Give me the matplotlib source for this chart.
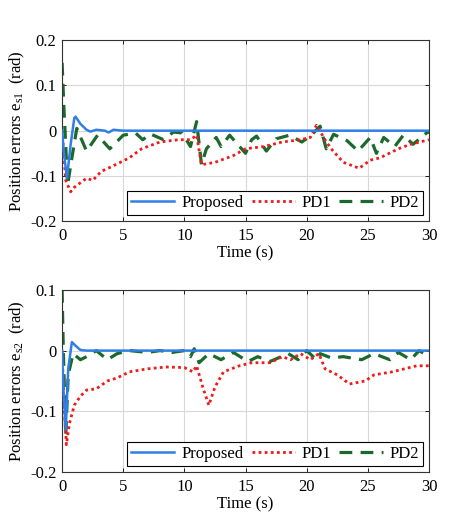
import numpy as np
import matplotlib.pyplot as plt

plt.rcParams['font.family'] = ['Liberation Serif', 'DejaVu Serif']
plt.rcParams['mathtext.fontset'] = 'custom'
plt.rcParams['mathtext.rm'] = 'Liberation Serif'
plt.rcParams['mathtext.it'] = 'Liberation Serif'
plt.rcParams['font.size'] = 12

# joint 1
t1_prop = [0, 0.15, 0.4, 0.7, 1.0, 1.1, 1.5, 2.0, 2.3, 2.8, 3.5, 3.8, 4.2, 5, 10, 15, 20, 25, 30]
e1_prop = [0, -0.05, -0.105, -0.03, 0.028, 0.031, 0.015, 0.002, -0.002, 0.002, 0, -0.004, 0.002, 0, 0, 0, 0, 0, 0]

t1_pd1 = [0, 0.3, 0.7, 1.0, 1.5, 2.0, 2.5, 3.2, 4.0, 5.5, 6.5, 8.0, 9.5, 10.5, 11.0, 11.4, 12.5, 14.0,
          15.0, 16.5, 18.0, 19.5, 20.3, 20.8, 21.5, 22.0, 23.0, 24.3, 25.2, 26.0, 27.5, 28.5, 30]
e1_pd1 = [0, -0.11, -0.135, -0.125, -0.115, -0.105, -0.11, -0.09, -0.08, -0.06, -0.04, -0.025, -0.02,
          -0.02, -0.01, -0.075, -0.07, -0.055, -0.04, -0.035, -0.025, -0.02, -0.015, 0.012, -0.02,
          -0.04, -0.07, -0.083, -0.065, -0.06, -0.04, -0.03, -0.02]

t1_pd2 = [0, 0.15, 0.45, 0.8, 1.2, 2.0, 2.9, 3.9, 5.0, 6.0, 6.6, 7.2, 8.3, 9.1, 9.8, 10.5, 11.0, 11.4,
          11.8, 12.6, 13.0, 13.7, 15.0, 15.5, 15.9, 16.7, 17.5, 18.6, 19.6, 20.3, 21.1, 21.6, 22.2,
          23.3, 24.2, 25.2, 25.7, 26.3, 27.2, 27.9, 28.7, 29.8, 30]
e1_pd2 = [0.15, 0.05, -0.12, -0.06, 0.005, -0.045, -0.01, -0.04, -0.01, -0.005, -0.02, -0.007, -0.02,
          -0.003, -0.005, -0.035, 0.02, -0.075, -0.04, -0.015, -0.035, -0.01, -0.05, -0.02, -0.012,
          -0.045, -0.018, -0.01, -0.025, -0.012, 0.01, -0.04, -0.008, -0.022, -0.045, -0.015, -0.05,
          -0.015, -0.035, -0.01, -0.03, -0.005, -0.003]

# joint 2
t2_prop = [0, 0.1, 0.3, 0.5, 0.8, 1.1, 1.5, 2, 5, 10, 15, 20, 25, 30]
e2_prop = [0, -0.06, -0.13, -0.03, 0.014, 0.008, 0.001, 0, 0, 0, 0, 0, 0, 0]

t2_pd1 = [0, 0.15, 0.35, 0.6, 1.0, 1.5, 2.0, 2.8, 3.7, 4.5, 5.5, 7.0, 8.5, 10.0, 10.7, 11.0, 11.5,
          12.0, 12.5, 13.2, 14.5, 15.5, 17.0, 18.0, 18.7, 19.5, 20.3, 21.0, 21.5, 22.5, 23.5, 24.8,
          25.5, 27.0, 28.0, 29.0, 30]
e2_pd1 = [0, -0.08, -0.155, -0.12, -0.09, -0.075, -0.065, -0.063, -0.05, -0.045, -0.035, -0.03, -0.027,
          -0.028, -0.035, -0.025, -0.06, -0.09, -0.06, -0.035, -0.025, -0.02, -0.02, -0.01, -0.015,
          -0.005, -0.015, -0.005, -0.03, -0.04, -0.055, -0.05, -0.04, -0.035, -0.03, -0.025, -0.025]

t2_pd2 = [0, 0.1, 0.3, 0.5, 0.9, 1.5, 2.0, 2.8, 3.7, 4.5, 5.5, 7.0, 8.0, 9.0, 10.0, 10.5, 10.8, 11.2,
          12.0, 13.0, 14.0, 15.2, 16.0, 17.0, 18.5, 19.3, 20.0, 20.8, 21.1, 22.0, 23.0, 24.5, 25.5,
          26.8, 27.5, 28.5, 29.2, 30]
e2_pd2 = [0.1, 0.0, -0.14, -0.04, -0.005, -0.015, -0.01, 0, -0.015, -0.005, 0, -0.003, 0, -0.003, 0,
          -0.01, 0.003, -0.02, -0.005, -0.015, -0.003, -0.018, -0.01, -0.018, -0.005, -0.015, 0,
          -0.015, -0.005, -0.012, -0.01, -0.015, -0.005, -0.015, -0.003, -0.015, 0, -0.01]

c_prop = '#2f7fe6'
c_pd1 = '#f01a1a'
c_pd2 = '#1b6a2b'

fig = plt.figure(figsize=(4.74, 5.28), dpi=100)
ax1 = fig.add_axes([0.131, 0.581, 0.774, 0.343])
ax2 = fig.add_axes([0.131, 0.106, 0.774, 0.345])

panneaux = [
    (ax1, t1_prop, e1_prop, t1_pd1, e1_pd1, t1_pd2, e1_pd2, 's1', (-0.2, 0.2), [-0.2, -0.1, 0, 0.1, 0.2]),
    (ax2, t2_prop, e2_prop, t2_pd1, e2_pd1, t2_pd2, e2_pd2, 's2', (-0.2, 0.1), [-0.2, -0.1, 0, 0.1]),
]

for ax, tp, ep, ta, ea, tb, eb, idx, ylim, yt in panneaux:
    ax.plot(tp, ep, color=c_prop, lw=1.8, label='Proposed', zorder=4)
    ax.plot(ta, ea, color=c_pd1, lw=2.0, ls=(0, (1, 1.2)), label='PD1', zorder=3)
    ax.plot(tb, eb, color=c_pd2, lw=2.3, ls=(0, (4, 2.6)), label='PD2', zorder=2)
    ax.set_xlim(0, 30)
    ax.set_ylim(*ylim)
    ax.set_xticks([0, 5, 10, 15, 20, 25, 30])
    ax.set_yticks(yt)
    ax.set_yticklabels(['%g' % v for v in yt])
    ax.grid(True, color='#d8d8d8', lw=0.8)
    ax.tick_params(direction='in', top=True, right=True, length=3, width=0.6, labelsize=12)
    ax.tick_params(axis='x', pad=5)
    ax.tick_params(axis='y', pad=4)
    for s in ax.spines.values():
        s.set_color('#333333')
        s.set_linewidth(0.8)
    ax.set_xlabel('Time (s)', labelpad=1)
    ax.set_ylabel(r'Position errors e$_{\mathregular{%s}}$  (rad)' % idx, labelpad=2)
    leg = ax.legend(loc='lower right', ncol=3, frameon=True, fancybox=False, framealpha=1,
                    edgecolor='black', handlelength=2.6, columnspacing=0.5, handletextpad=0.4,
                    borderpad=0.25, borderaxespad=0.35, fontsize=12)
    leg.get_frame().set_linewidth(0.8)

plt.savefig('out.png', dpi=100)
